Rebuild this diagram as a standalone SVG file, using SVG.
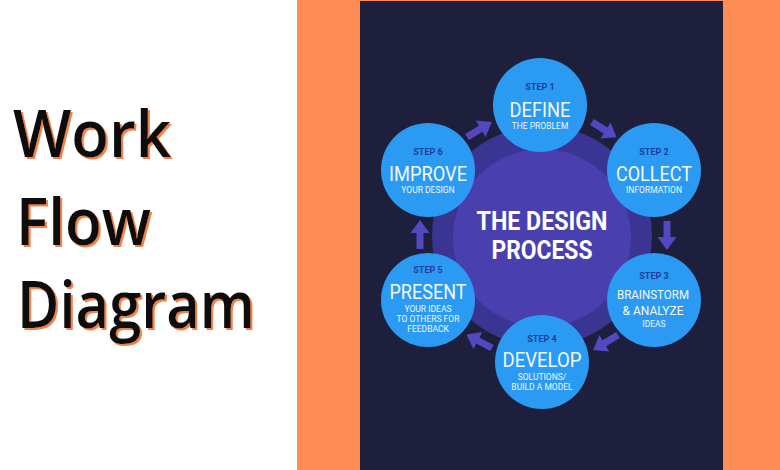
<svg xmlns="http://www.w3.org/2000/svg" xmlns:xlink="http://www.w3.org/1999/xlink" width="780" height="470" viewBox="0 0 780 470">
<style>
.title{font-family:"Open Sans",Lato,"Liberation Sans",sans-serif;font-size:66px;font-weight:600;fill:#111111;filter:url(#orangeShadow);}
.bubble{fill:#2b9af3;}
.step{font-family:Roboto,"Liberation Sans",sans-serif;font-weight:bold;font-size:9px;fill:#1d3d9e;text-anchor:middle;}
.big{font-family:Roboto,"Liberation Sans",sans-serif;font-size:21px;fill:#f2f8ff;text-anchor:middle;}
.mid{font-family:Roboto,"Liberation Sans",sans-serif;font-size:13px;fill:#f2f8ff;text-anchor:middle;}
.small{font-family:Roboto,"Liberation Sans",sans-serif;font-size:8.5px;fill:#eef6ff;text-anchor:middle;}
.center{font-family:Roboto,"Liberation Sans",sans-serif;font-weight:bold;font-size:25px;fill:#ffffff;text-anchor:middle;}
.arrow{fill:#5547c2;}
</style>
<defs>
<filter id="orangeShadow" x="-10%" y="-10%" width="130%" height="130%">
<feOffset in="SourceAlpha" dx="2" dy="2" result="off"/>
<feFlood flood-color="#f2824c"/>
<feComposite in2="off" operator="in" result="sh"/>
<feMerge><feMergeNode in="sh"/><feMergeNode in="SourceGraphic"/></feMerge>
</filter>
<path id="arr" d="M0,-3.5 L16,-3.5 L16,-9.5 L29,0 L16,9.5 L16,3.5 L0,3.5 Z"/>
</defs>
<rect x="0" y="0" width="780" height="470" fill="#ffffff"/>
<rect x="297" y="0" width="483" height="470" fill="#ff8b55"/>
<rect x="360" y="1" width="363" height="469" fill="#1e1f3d"/>
<g id="title">
<text class="title" x="13" y="157" textLength="158" lengthAdjust="spacingAndGlyphs">Work</text>
<text class="title" x="16" y="245" textLength="135" lengthAdjust="spacingAndGlyphs">Flow</text>
<text class="title" x="17" y="328" textLength="238" lengthAdjust="spacingAndGlyphs">Diagram</text>
</g>
<g id="hub">
<circle cx="542" cy="236" r="110" fill="#3a3593"/>
<circle cx="542" cy="238" r="89" fill="#4a3fae"/>
<text class="center" x="542" y="230" textLength="131" lengthAdjust="spacingAndGlyphs">THE DESIGN</text>
<text class="center" x="542" y="259" textLength="101" lengthAdjust="spacingAndGlyphs">PROCESS</text>
</g>
<g id="connectors" class="arrow">
<use xlink:href="#arr" transform="translate(467,137) rotate(-31)"/>
<use xlink:href="#arr" transform="translate(592,122) rotate(32)"/>
<use xlink:href="#arr" transform="translate(667,221) rotate(90)"/>
<use xlink:href="#arr" transform="translate(618,335) rotate(149)"/>
<use xlink:href="#arr" transform="translate(492,348) rotate(-152)"/>
<use xlink:href="#arr" transform="translate(420,249) rotate(-90)"/>
</g>
<g id="step1">
<circle class="bubble" cx="540" cy="105" r="47"/>
<text class="step" x="540" y="90">STEP 1</text>
<text class="big" x="540" y="117" textLength="61" lengthAdjust="spacingAndGlyphs">DEFINE</text>
<text class="small" x="540" y="129">THE PROBLEM</text>
</g>
<g id="step2">
<circle class="bubble" cx="654" cy="170" r="47"/>
<text class="step" x="654" y="155">STEP 2</text>
<text class="big" x="654" y="181" textLength="76" lengthAdjust="spacingAndGlyphs">COLLECT</text>
<text class="small" x="654" y="193">INFORMATION</text>
</g>
<g id="step3">
<circle class="bubble" cx="654" cy="300" r="47"/>
<text class="step" x="654" y="279">STEP 3</text>
<text class="mid" x="653" y="299" textLength="72" lengthAdjust="spacingAndGlyphs">BRAINSTORM</text>
<text class="mid" x="653" y="314.5" textLength="61" lengthAdjust="spacingAndGlyphs">&amp; ANALYZE</text>
<text class="small" x="654" y="327">IDEAS</text>
</g>
<g id="step4">
<circle class="bubble" cx="542" cy="362" r="47"/>
<text class="step" x="542" y="342">STEP 4</text>
<text class="big" x="542" y="367" textLength="79" lengthAdjust="spacingAndGlyphs">DEVELOP</text>
<text class="small" x="542" y="380">SOLUTIONS/</text>
<text class="small" x="542" y="390">BUILD A MODEL</text>
</g>
<g id="step5">
<circle class="bubble" cx="428" cy="300" r="47"/>
<text class="step" x="428" y="273">STEP 5</text>
<text class="big" x="428" y="299" textLength="77" lengthAdjust="spacingAndGlyphs">PRESENT</text>
<text class="small" x="428" y="312">YOUR IDEAS</text>
<text class="small" x="428" y="322">TO OTHERS FOR</text>
<text class="small" x="428" y="332">FEEDBACK</text>
</g>
<g id="step6">
<circle class="bubble" cx="428" cy="170" r="47"/>
<text class="step" x="428" y="155">STEP 6</text>
<text class="big" x="428" y="181" textLength="78" lengthAdjust="spacingAndGlyphs">IMPROVE</text>
<text class="small" x="428" y="193">YOUR DESIGN</text>
</g>
</svg>
